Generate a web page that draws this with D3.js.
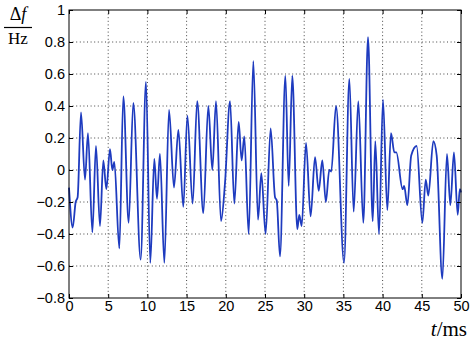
<!DOCTYPE html>
<html lang="en">
<head>
<meta charset="UTF-8">
<title>Delta f</title>
<style>
  body { margin: 0; background: #fff; }
  .tick text { font-family: "Liberation Sans", Arial, Helvetica, sans-serif; font-size: 14.5px; fill: #000; }
</style>
</head>
<body>
<script src="https://d3js.org/d3.v7.min.js"></script>
<div id="chart"></div>
<script>
// time (ms) and frequency deviation (Hz)
const times = [0, 0.47, 0.85, 1.1, 1.53, 2.04, 2.42, 2.98, 3.44, 3.95, 4.38, 4.76, 5.23, 5.53, 5.78,
  6.42, 6.93, 7.61, 8.2, 9.14, 9.82, 10.37, 10.88, 11.22, 11.6, 12.16, 12.76, 13.39, 13.95, 14.58,
  15.1, 15.77, 16.35, 17.13, 17.77, 18.28, 18.75, 19.39, 19.9, 20.54, 21.09, 21.64, 22.02, 22.36,
  22.92, 23.51, 24.11, 24.53, 25.08, 25.72, 26.28, 26.5, 26.91, 27.6, 28.02, 28.48, 29.12, 29.37,
  29.68, 30.23, 30.82, 31.38, 31.85, 32.31, 32.76, 33.2, 33.45, 34.06, 35.08, 35.76, 36.31, 36.9,
  37.54, 38.14, 38.74, 39.07, 39.54, 40.05, 40.6, 41.07, 41.5, 41.75, 42.55, 42.75, 43.16, 43.65,
  44.34, 45.07, 45.5, 45.83, 46.47, 46.9, 47.62, 48.21, 48.64, 49.1, 49.58, 49.85, 50]
const values = [-0.11, -0.36, -0.2, -0.17, 0.36, -0.06, 0.23, -0.39, 0.15, -0.35, 0.06, -0.12, 0.13, 0.0, 0.05,
  -0.49, 0.46, -0.33, 0.42, -0.56, 0.55, -0.58, 0.07, -0.18, 0.1, -0.58, 0.375, -0.11, 0.25, -0.23,
  0.34, -0.21, 0.43, -0.27, 0.40, 0.0, 0.43, -0.32, -0.08, 0.43, -0.21, 0.30, 0.06, 0.21,
  -0.40, 0.68, -0.31, -0.02, -0.40, 0.26, -0.17, -0.19, -0.54, 0.59, -0.10, 0.59, -0.37, -0.28,
  -0.35, 0.17, -0.29, 0.08, -0.13, 0.06, -0.20, 0.0, -0.01, 0.40, -0.58, 0.57, -0.26, 0.43,
  -0.33, 0.83, -0.32, 0.18, -0.40, 0.44, -0.25, 0.23, 0.11, 0.11, -0.12, -0.10, -0.22, 0.09,
  0.15, -0.33, -0.06, -0.16, 0.18, 0.09, -0.68, 0.10, -0.22, 0.11, -0.28, -0.12, -0.14]

const xTicks = [0, 5, 10, 15, 20, 25, 30, 35, 40, 45, 50]
const yTicks = [-0.8, -0.6, -0.4, -0.2, 0, 0.2, 0.4, 0.6, 0.8, 1]

const W = 474, H = 347
const MARGIN = { LEFT: 69, RIGHT: 13, TOP: 10, BOTTOM: 49 }
const WIDTH = W - MARGIN.LEFT - MARGIN.RIGHT
const HEIGHT = H - MARGIN.TOP - MARGIN.BOTTOM

const svg = d3.select("#chart").append("svg")
    .attr("width", W)
    .attr("height", H)

const g = svg.append("g")
    .attr("transform", `translate(${MARGIN.LEFT},${MARGIN.TOP})`)

const x = d3.scaleLinear().domain([0, 50]).range([0, WIDTH])
const y = d3.scaleLinear().domain([-0.8, 1]).range([HEIGHT, 0])

// dotted grid
g.append("g").selectAll("line")
    .data(xTicks.filter(d => d > 0 && d < 50))
    .join("line")
    .attr("x1", d => x(d)).attr("x2", d => x(d))
    .attr("y1", 0).attr("y2", HEIGHT)
    .style("stroke", "#444").style("stroke-width", 1)
    .style("stroke-dasharray", "1,2.6")
g.append("g").selectAll("line")
    .data(yTicks.filter(d => d > -0.8 && d < 1))
    .join("line")
    .attr("x1", 0).attr("x2", WIDTH)
    .attr("y1", d => y(d)).attr("y2", d => y(d))
    .style("stroke", "#444").style("stroke-width", 1)
    .style("stroke-dasharray", "1,2.6")

// the signal
const pts = times.map((t, i) => [t, values[i]])
const line = d3.line()
    .x(d => x(d[0]))
    .y(d => y(d[1]))
    .curve(d3.curveMonotoneX)
g.append("path")
    .attr("d", line(pts))
    .style("fill", "none")
    .style("stroke", "#1e3bbf")
    .style("stroke-width", 1.8)
    .style("stroke-linejoin", "round")

// axes, ticks pointing inward
const fmt = d => d3.format("~g")(+d.toFixed(1))
g.append("g")
    .attr("transform", `translate(0,${HEIGHT})`)
    .call(d3.axisBottom(x).tickValues(xTicks).tickSizeInner(-4).tickSizeOuter(0).tickPadding(3))
g.append("g")
    .call(d3.axisTop(x).tickValues(xTicks).tickSizeInner(-4).tickSizeOuter(0).tickFormat(""))
g.append("g")
    .call(d3.axisLeft(y).tickValues(yTicks).tickSizeInner(-4).tickSizeOuter(0).tickPadding(4).tickFormat(fmt))
g.append("g")
    .attr("transform", `translate(${WIDTH},0)`)
    .call(d3.axisRight(y).tickValues(yTicks).tickSizeInner(-4).tickSizeOuter(0).tickFormat(""))
g.selectAll(".domain").remove()
g.selectAll(".tick line").style("stroke", "#000")

// frame
g.append("rect")
    .attr("width", WIDTH).attr("height", HEIGHT)
    .style("fill", "none").style("stroke", "#000").style("stroke-width", 1)

// axis labels (LaTeX style)
const serif = "'Liberation Serif', 'DejaVu Serif', serif"
const xl = svg.append("text")
    .attr("x", 467).attr("y", 336)
    .attr("text-anchor", "end")
    .style("font-family", serif).style("font-size", "21px")
xl.append("tspan").style("font-style", "italic").text("t")
xl.append("tspan").text("/ms")

const yl = svg.append("text")
    .attr("x", 18).attr("y", 20)
    .attr("text-anchor", "middle")
    .style("font-family", serif).style("font-size", "18px")
yl.append("tspan").text("Δ")
yl.append("tspan").style("font-style", "italic").text("f")
svg.append("line")
    .attr("x1", 4).attr("x2", 32).attr("y1", 27.5).attr("y2", 27.5)
    .style("stroke", "#000").style("stroke-width", 1.2)
svg.append("text")
    .attr("x", 18).attr("y", 44)
    .attr("text-anchor", "middle")
    .style("font-family", serif).style("font-size", "17px")
    .text("Hz")
</script>
</body>
</html>
